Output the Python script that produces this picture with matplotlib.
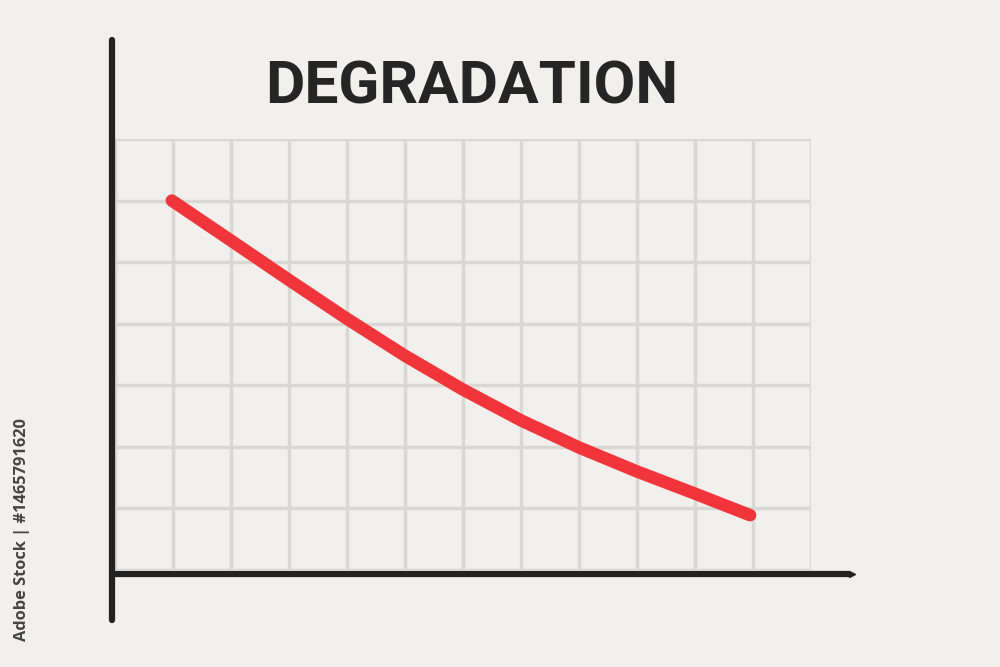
import matplotlib.pyplot as plt
from matplotlib.lines import Line2D

# grid cells: 12 columns x 7 rows, curve
x_vals = [0.98, 2.0, 3.0, 4.0, 5.0, 6.0, 7.0, 8.0, 9.0, 10.0, 10.95]
y_vals = [6.0, 5.35, 4.71, 4.08, 3.48, 2.93, 2.43, 1.99, 1.6, 1.24, 0.89]
title = "DEGRADATION"
credit = "Adobe Stock | #1465791620"

bg = "#f1f0ec"
W, H = 1000, 667

fig = plt.figure(figsize=(10, 6.67), dpi=100, facecolor=bg)
ax = fig.add_axes([115 / W, 1 - 570 / H, (811 - 115) / W, (570 - 139) / H])
ax.set_facecolor(bg)
ax.set_xlim(0, 12)
ax.set_ylim(0, 7)
for s in ax.spines.values():
    s.set_visible(False)
ax.set_xticks(range(13))
ax.set_yticks(range(8))
ax.tick_params(length=0, labelbottom=False, labelleft=False)
ax.grid(True, color="#d9d8d3", linewidth=2.5)
ax.set_axisbelow(True)

ax.plot(x_vals, y_vals, color="#f1353b", linewidth=9,
        solid_capstyle="round", solid_joinstyle="round", zorder=3)

# hand-drawn axes
fig.add_artist(Line2D([112 / W, 112 / W], [1 - 40 / H, 1 - 620 / H],
                      color="#222222", linewidth=4.5, solid_capstyle="round"))
fig.add_artist(Line2D([114 / W, 850 / W], [1 - 574 / H, 1 - 574 / H],
                      color="#222222", linewidth=4.5, solid_capstyle="butt"))
fig.add_artist(Line2D([852 / W], [1 - 574 / H], marker=">", markersize=5,
                      color="#222222", linestyle="none"))

fig.text(472 / W, 1 - 103 / H, title, ha="center", va="baseline",
         fontsize=43.5, fontweight="bold", family="Roboto", color="#252525")
fig.text(22 / W, 1 - 641 / H, credit, rotation=90, ha="center", va="bottom",
         fontsize=11.8, family="Open Sans", fontweight="bold", color="#444444")

fig.savefig("out.png", dpi=100, facecolor=bg)
